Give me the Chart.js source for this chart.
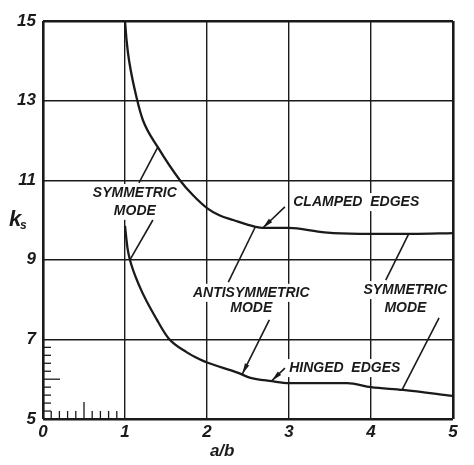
<!DOCTYPE html>
<html lang="en">
<head>
<meta charset="UTF-8">
<title>Shear buckling coefficient</title>
<script src="https://cdn.jsdelivr.net/npm/chart.js@4.4.0/dist/chart.umd.min.js"></script>
<style>
  html, body { margin: 0; padding: 0; background: #fff; }
  #wrap { width: 474px; height: 465px; }
</style>
</head>
<body>
<div id="wrap"><canvas id="myCanvas" width="474" height="465"></canvas></div>
<script>
// values (a/b, k_s)
const clampedX = [1.0, 1.02, 1.05, 1.15, 1.22, 1.40, 1.67, 1.83, 2.0, 2.15, 2.32, 2.59, 2.68, 3.0, 3.38, 3.54, 4.0, 4.5, 5.0];
const clampedY = [15.0, 14.5, 14.0, 13.0, 12.5, 11.83, 11.0, 10.62, 10.3, 10.12, 10.0, 9.83, 9.8, 9.8, 9.7, 9.67, 9.65, 9.65, 9.67];
const hingedX = [1.0, 1.03, 1.06, 1.18, 1.39, 1.53, 1.75, 1.91, 2.0, 2.38, 2.52, 2.79, 3.0, 3.34, 3.71, 4.0, 4.39, 5.0];
const hingedY = [9.85, 9.3, 9.0, 8.32, 7.49, 7.03, 6.68, 6.5, 6.42, 6.16, 6.04, 5.95, 5.9, 5.9, 5.9, 5.8, 5.73, 5.58];

const xTicks = [0, 1, 2, 3, 4, 5];
const yTicks = [5, 7, 9, 11, 13, 15];
const minorX = [0.1, 0.2, 0.3, 0.4, 0.5, 0.6, 0.7, 0.8, 0.9];
const minorY = [5.2, 5.4, 5.6, 5.8, 6.0, 6.2, 6.4, 6.6, 6.8];

// text notes and leader lines, in data units
const notes = [
  { lines: ['SYMMETRIC', 'MODE'], x: 1.12, y: [10.68, 10.23] },
  { lines: ['CLAMPED  EDGES'], x: 3.82, y: [10.45] },
  { lines: ['ANTISYMMETRIC', 'MODE'], x: 2.54, y: [8.17, 7.79] },
  { lines: ['HINGED  EDGES'], x: 3.68, y: [6.28] },
  { lines: ['SYMMETRIC', 'MODE'], x: 4.42, y: [8.24, 7.79] }
];
const leaders = [
  { from: [1.17, 10.93], to: [1.40, 11.83], arrow: false },
  { from: [1.34, 10.0], to: [1.06, 9.0], arrow: false },
  { from: [2.95, 10.33], to: [2.68, 9.80], arrow: true },
  { from: [2.26, 8.44], to: [2.59, 9.83], arrow: false },
  { from: [2.76, 7.49], to: [2.43, 6.13], arrow: true },
  { from: [2.95, 6.28], to: [2.79, 5.96], arrow: true },
  { from: [4.18, 8.49], to: [4.46, 9.65], arrow: false },
  { from: [4.83, 7.54], to: [4.38, 5.74], arrow: false }
];

const ink = '#1a1a1a';
const noteFont = 'italic bold 14px "Liberation Sans", Arial, sans-serif';

function pts(xs, ys) { return xs.map((x, i) => ({ x: x, y: ys[i] })); }

const notesPlugin = {
  id: 'notes',
  beforeDatasetsDraw(chart) {
    // blank the grid behind the lettering, as in the drawing
    const ctx = chart.ctx, sx = chart.scales.x, sy = chart.scales.y;
    ctx.save();
    ctx.font = noteFont;
    ctx.fillStyle = '#fff';
    notes.forEach(n => {
      n.lines.forEach((t, i) => {
        const w = ctx.measureText(t).width;
        ctx.fillRect(sx.getPixelForValue(n.x) - w / 2 - 3, sy.getPixelForValue(n.y[i]) - 9, w + 6, 18);
      });
    });
    ctx.restore();
  },
  afterDatasetsDraw(chart) {
    const ctx = chart.ctx, sx = chart.scales.x, sy = chart.scales.y;
    const a = chart.chartArea;
    ctx.save();
    ctx.strokeStyle = ink;
    ctx.fillStyle = ink;

    // small scale ticks along the axes
    ctx.lineWidth = 1.3;
    minorY.forEach(v => {
      const py = sy.getPixelForValue(v);
      const len = Math.abs(v - 6) < 0.01 ? 17 : 8;
      ctx.beginPath(); ctx.moveTo(a.left, py); ctx.lineTo(a.left + len, py); ctx.stroke();
    });
    minorX.forEach(v => {
      const px = sx.getPixelForValue(v);
      const len = Math.abs(v - 0.5) < 0.01 ? 17 : 8;
      ctx.beginPath(); ctx.moveTo(px, a.bottom); ctx.lineTo(px, a.bottom - len); ctx.stroke();
    });

    // leader lines
    ctx.lineWidth = 1.6;
    leaders.forEach(l => {
      const x1 = sx.getPixelForValue(l.from[0]), y1 = sy.getPixelForValue(l.from[1]);
      const x2 = sx.getPixelForValue(l.to[0]), y2 = sy.getPixelForValue(l.to[1]);
      ctx.beginPath(); ctx.moveTo(x1, y1); ctx.lineTo(x2, y2); ctx.stroke();
      if (l.arrow) {
        const ang = Math.atan2(y2 - y1, x2 - x1);
        ctx.beginPath();
        ctx.moveTo(x2, y2);
        ctx.lineTo(x2 - 11 * Math.cos(ang - 0.22), y2 - 11 * Math.sin(ang - 0.22));
        ctx.lineTo(x2 - 11 * Math.cos(ang + 0.22), y2 - 11 * Math.sin(ang + 0.22));
        ctx.closePath(); ctx.fill();
      }
    });

    // lettering
    ctx.font = noteFont;
    ctx.textAlign = 'center';
    ctx.textBaseline = 'middle';
    notes.forEach(n => {
      n.lines.forEach((t, i) => ctx.fillText(t, sx.getPixelForValue(n.x), sy.getPixelForValue(n.y[i])));
    });

    // axis names
    ctx.font = 'italic bold 22px "Liberation Sans", Arial, sans-serif';
    ctx.textAlign = 'left';
    const ky = sy.getPixelForValue(10);
    ctx.fillText('k', 9, ky);
    ctx.font = 'italic bold 12px "Liberation Sans", Arial, sans-serif';
    ctx.fillText('s', 20, ky + 6);
    ctx.font = 'italic bold 17px "Liberation Sans", Arial, sans-serif';
    ctx.textAlign = 'center';
    ctx.fillText('a/b', (sx.getPixelForValue(2) + sx.getPixelForValue(2.37)) / 2, a.bottom + 32);
    ctx.restore();
  }
};

const edgeWidth = (ctx, lo, hi) => {
  const v = ctx.tick ? ctx.tick.value : null;
  return (v === lo || v === hi) ? 2.6 : 1.4;
};

new Chart(document.getElementById('myCanvas'), {
  type: 'scatter',
  data: {
    datasets: [
      { label: 'Clamped edges', data: pts(clampedX, clampedY) },
      { label: 'Hinged edges', data: pts(hingedX, hingedY) }
    ]
  },
  options: {
    responsive: false,
    animation: false,
    showLine: true,
    layout: { padding: { top: 21, right: 21, left: 0, bottom: 0 } },
    elements: {
      point: { radius: 0, hoverRadius: 0 },
      line: { borderColor: ink, borderWidth: 2.3, cubicInterpolationMode: 'monotone', fill: false }
    },
    plugins: { legend: { display: false }, tooltip: { enabled: false } },
    scales: {
      x: {
        type: 'linear', min: 0, max: 5,
        afterBuildTicks: s => { s.ticks = xTicks.map(v => ({ value: v })); },
        afterFit: s => { s.height = 46; },
        grid: { color: ink, lineWidth: c => edgeWidth(c, 0, 5), drawTicks: false },
        border: { display: false },
        ticks: {
          color: ink, padding: 3,
          font: { family: '"Liberation Sans", Arial, sans-serif', size: 17, style: 'italic', weight: 'bold' }
        }
      },
      y: {
        type: 'linear', min: 5, max: 15,
        afterBuildTicks: s => { s.ticks = yTicks.map(v => ({ value: v })); },
        afterFit: s => { s.width = 43; },
        grid: { color: ink, lineWidth: c => edgeWidth(c, 5, 15), drawTicks: false },
        border: { display: false },
        ticks: {
          color: ink, padding: 7,
          font: { family: '"Liberation Sans", Arial, sans-serif', size: 17, style: 'italic', weight: 'bold' }
        }
      }
    }
  },
  plugins: [notesPlugin]
});
</script>
</body>
</html>
